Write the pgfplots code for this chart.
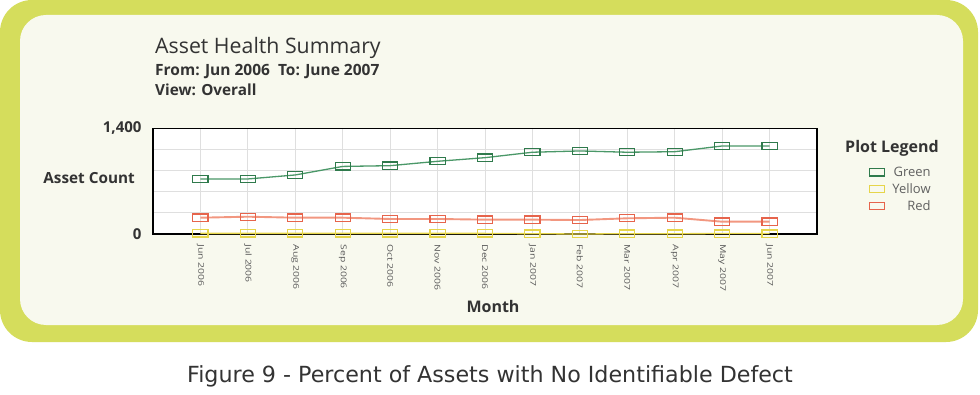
\documentclass[border=0pt]{standalone}
\usepackage{pgfplots}
\pgfplotsset{compat=1.18}
\usepackage{graphicx}
\usepackage{fontspec}
\setmainfont{Open Sans}
\newfontfamily\capfont{DejaVu Sans}
\definecolor{framec}{HTML}{D5DD5C}
\definecolor{cream}{HTML}{F8F9EE}
\definecolor{gline}{HTML}{4A9868}
\definecolor{gmark}{HTML}{2F7A4C}
\definecolor{rline}{HTML}{F29780}
\definecolor{rmark}{HTML}{E6644C}
\definecolor{yline}{HTML}{E6D54A}
\definecolor{txt}{HTML}{333333}
\newcommand{\SL}[1]{\scalebox{1.3}[1]{#1}}
\begin{document}
\begin{tikzpicture}[x=1pt,y=1pt]
\useasboundingbox (0,0) rectangle (980,394);
\fill[white] (0,0) rectangle (980,394);
\fill[framec, rounded corners=32pt] (0,52) rectangle (978,394);
\fill[cream, rounded corners=26pt] (20,69) rectangle (963,379);
\node[anchor=base west, font=\fontsize{21.3}{24}\selectfont, text=txt, inner sep=0] at (155,340) {Asset Health Summary};
\node[anchor=base west, font=\bfseries\fontsize{15.5}{17}\selectfont, text=txt, inner sep=0] at (155,318) {From: Jun 2006\ \ To: June 2007};
\node[anchor=base west, font=\bfseries\fontsize{15.3}{17}\selectfont, text=txt, inner sep=0] at (155,298) {View: Overall};
\node[anchor=east, font=\bfseries\fontsize{15.3}{17}\selectfont, text=txt, inner sep=0] at (135,216) {Asset Count};
\node[font=\bfseries\fontsize{16}{17}\selectfont, text=txt] at (493,88) {Month};
\node[font=\bfseries\fontsize{16}{18}\selectfont, text=txt] at (892,246) {Plot Legend};
\node[font=\capfont\fontsize{22.2}{24}\selectfont, text=txt] at (490,18) {Figure 9 - Percent of Assets with No Identifiable Defect};
\begin{axis}[
  at={(153pt,160pt)}, anchor=south west, scale only axis,
  width=664pt, height=105.7pt,
  xmin=-1, xmax=13, ymin=0, ymax=1400,
  axis background/.style={fill=white},
  xtick={0,...,12},
  xticklabels={\SL{Jun 2006},\SL{Jul 2006},\SL{Aug 2006},\SL{Sep 2006},\SL{Oct 2006},\SL{Nov 2006},\SL{Dec 2006},\SL{Jan 2007},\SL{Feb 2007},\SL{Mar 2007},\SL{Apr 2007},\SL{May 2007},\SL{Jun 2007}},
  ytick={0,280,560,840,1120,1400},
  yticklabels={0,,,,,{1,400}},
  grid=major, grid style={draw=gray!25, line width=0.9pt},
  major tick length=0pt,
  axis line style={line width=1.6pt, black},
  xticklabel style={yshift=-7pt, rotate=-90, anchor=west, font=\fontsize{8}{9}\selectfont, text=gray!70!black},
  yticklabel style={font=\bfseries\fontsize{15}{16}\selectfont, text=txt, xshift=-8pt},
  /pgf/number format/assume math mode=true,
  clip=false,
  legend style={at={(1.179,0.675)}, anchor=north east, draw=none, fill=none,
    font=\fontsize{13}{14}\selectfont, text=gray!75!black, row sep=1.5pt},
  legend cell align=right,
  legend image code/.code={\draw[#1] plot coordinates {(0.3cm,0cm)}; \node[inner sep=0pt, minimum size=0pt] at (0.8cm,0cm) {};},
]
\addplot[color=gline, line width=1.3pt, mark=square, mark size=3.6pt, mark options={solid, fill=white, xscale=2.1, line width=1.2pt, draw=gmark}]
coordinates {(0,729)(1,729)(2,782)(3,895)(4,905)(5,963)(6,1011)(7,1083)(8,1100)(9,1083)(10,1090)(11,1166)(12,1166)};
\addlegendentry{Green}
\addplot[color=yline, line width=1.3pt, mark=square, mark size=3.6pt, mark options={solid, fill=none, xscale=2.1, line width=1.2pt, draw=yline}]
coordinates {(0,8)(1,8)(2,8)(3,8)(4,8)(5,8)(6,8)(7,4)(8,0)(9,4)(10,4)(11,6)(12,6)};
\addlegendentry{Yellow}
\addplot[color=rline, line width=1.9pt, mark=square, mark size=3.6pt, mark options={solid, fill=white, xscale=2.1, line width=1.2pt, draw=rmark}]
coordinates {(0,216)(1,229)(2,216)(3,216)(4,199)(5,199)(6,190)(7,190)(8,185)(9,208)(10,216)(11,163)(12,163)};
\addlegendentry{Red}
\end{axis}
\end{tikzpicture}
\end{document}
